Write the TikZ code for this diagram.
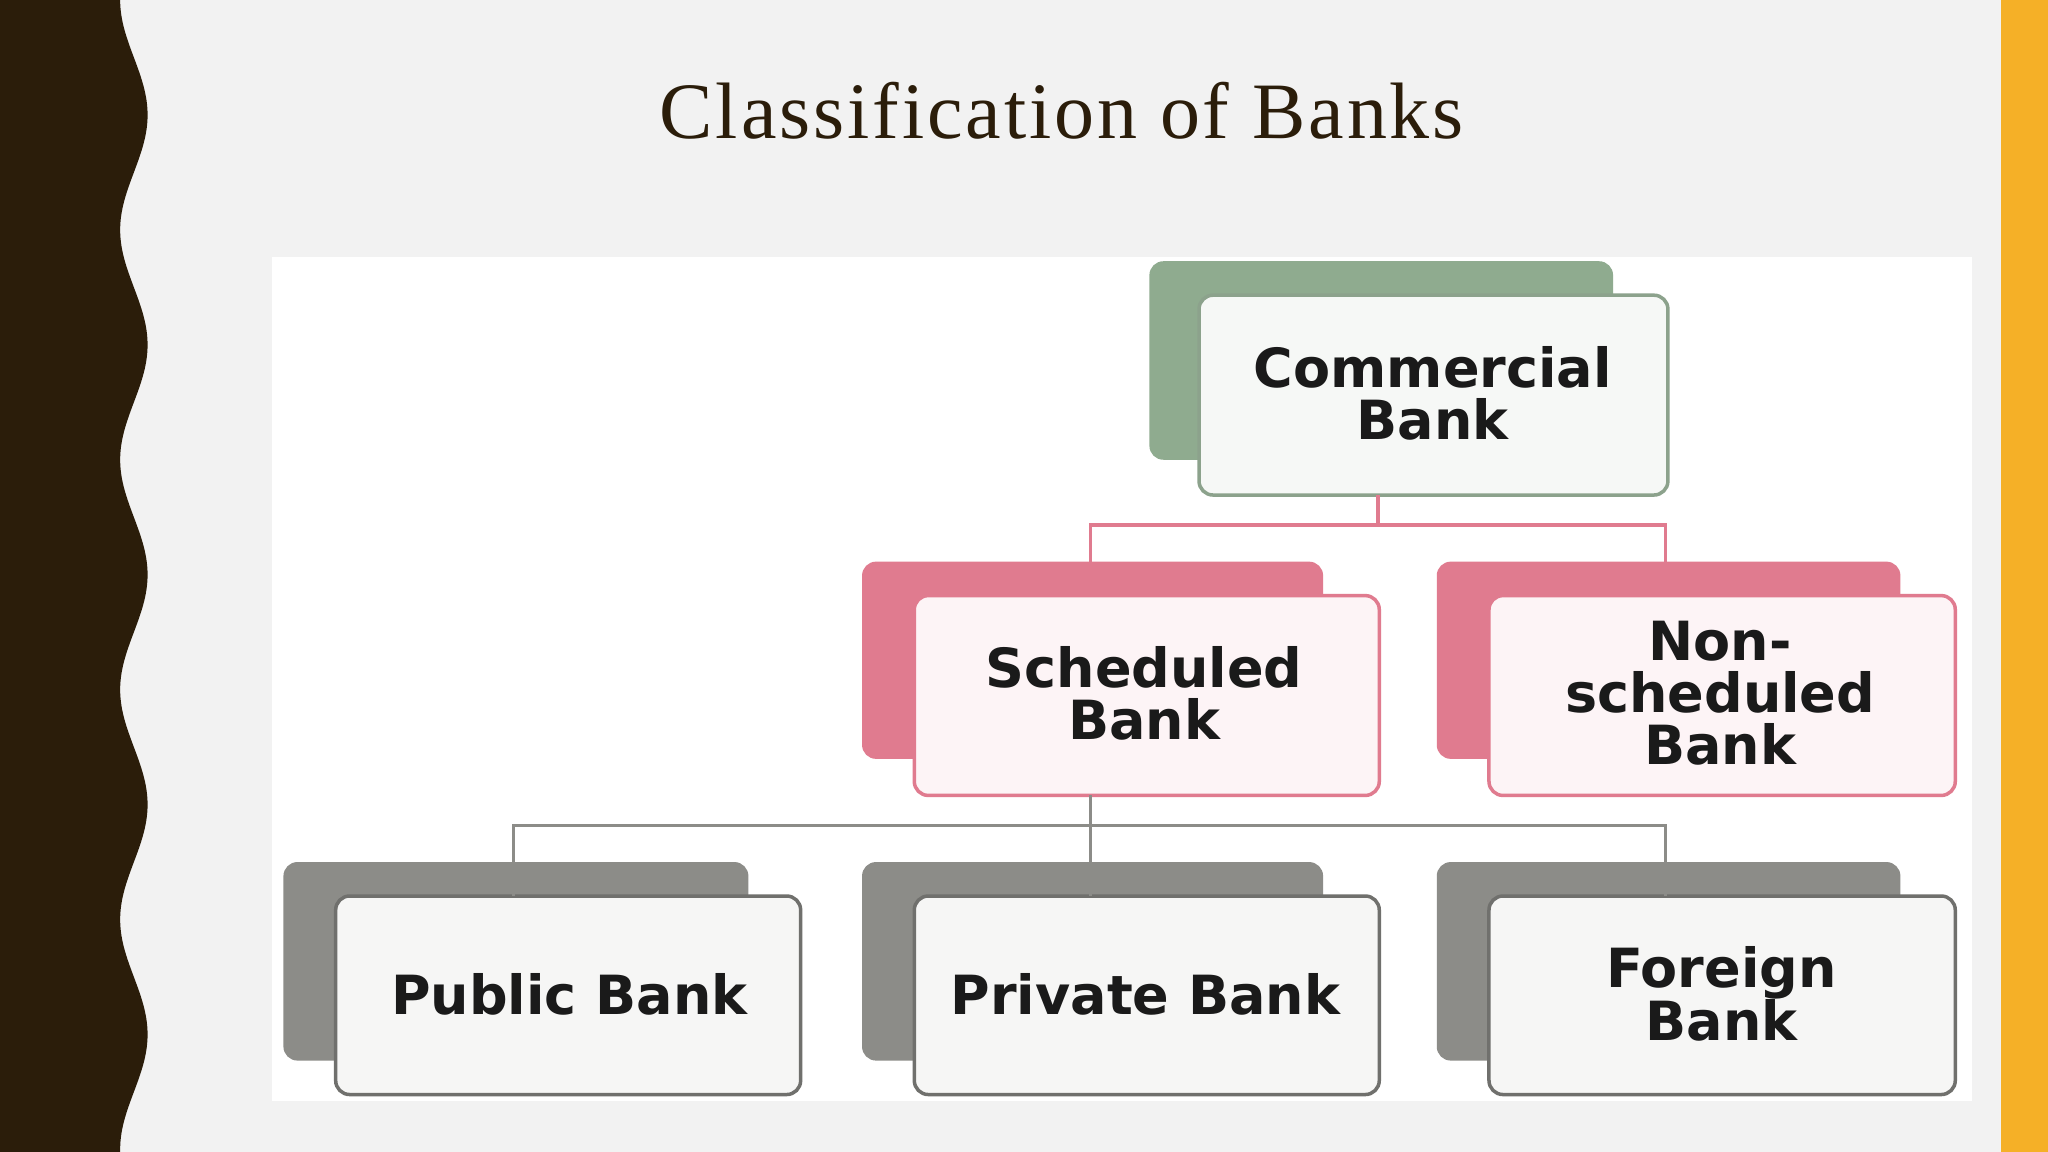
\documentclass[tikz,border=0pt]{standalone}
\usepackage{fontspec}
\setmainfont{Liberation Serif}
\newfontfamily\titlefont[LetterSpace=3.6]{Liberation Serif}
\newfontfamily\boxfont{DejaVu Sans}
\definecolor{bgc}{HTML}{F2F2F2}
\definecolor{brownc}{HTML}{2B1D0A}
\definecolor{orangec}{HTML}{F5B027}
\definecolor{greenc}{HTML}{8FAB8F}
\definecolor{pinkc}{HTML}{E07B8F}
\definecolor{grayc}{HTML}{8C8C88}
\definecolor{textc}{HTML}{1A1A1A}
\begin{document}
\begin{tikzpicture}[x=1.306pt,y=-1.306pt,
  back/.style={rounded corners=14pt},
  front/.style={rounded corners=14pt,line width=3.5pt},
  lbl/.style={font=\boxfont\bfseries\fontsize{54}{52}\selectfont,text=textc,align=center},
  conn/.style={line width=3.5pt}]
\useasboundingbox (0,0) rectangle (1568,882);
\fill[bgc] (0,0) rectangle (1568,882);
\fill[orangec] (1532,0) rectangle (1568,882);
\fill[brownc] (0,0) -- plot[domain=0:882,samples=300,smooth] ({102.5+10.5*sin((\x-44)/176*360)},\x) -- (0,882) -- cycle;
\node[font=\titlefont\fontsize{80}{90}\selectfont,text=brownc] (title) at (813,85) {Classification of Banks};
\fill[white] (208,197) rectangle (1510,843);
% back boxes
\fill[greenc,back] (880,200) rectangle (1235,352);
\fill[pinkc,back] (660,430) rectangle (1013,581);
\fill[pinkc,back] (1100,430) rectangle (1455,581);
\fill[grayc,back] (217,660) rectangle (573,812);
\fill[grayc,back] (660,660) rectangle (1013,812);
\fill[grayc,back] (1100,660) rectangle (1455,812);
% front boxes
\draw[front,draw=greenc!80!gray,fill=greenc!8!white] (918,226) rectangle (1277,379);
\draw[front,draw=pinkc,fill=pinkc!8!white] (700,456) rectangle (1056,609);
\draw[front,draw=pinkc,fill=pinkc!8!white] (1140,456) rectangle (1497,609);
\draw[front,draw=grayc!80!black,fill=grayc!8!white] (257,686) rectangle (613,838);
\draw[front,draw=grayc!80!black,fill=grayc!8!white] (700,686) rectangle (1056,838);
\draw[front,draw=grayc!80!black,fill=grayc!8!white] (1140,686) rectangle (1497,838);
% labels
\node[lbl] (com) at (1097,301) {Commercial\\Bank};
\node[lbl] (sch) at (876,531) {Scheduled\\Bank};
\node[lbl] (non) at (1317,531) {Non-\\scheduled\\Bank};
\node[lbl] (pub) at (436,761) {Public Bank};
\node[lbl] (pri) at (877,761) {Private Bank};
\node[lbl] (for) at (1318,761) {Foreign\\Bank};
\coordinate (comb) at (1055,379);
\coordinate (schb) at (835,609);
\coordinate (scht) at (835,456);
\coordinate (nont) at (1275,456);
\coordinate (pubt) at (393,686);
\coordinate (prit) at (835,686);
\coordinate (fort) at (1275,686);
\draw[conn,pinkc] (comb) -- (1055,402) -| (scht);
\draw[conn,pinkc] (1055,402) -| (nont);
\draw[conn,grayc] (schb) -- (835,632) -| (pubt);
\draw[conn,grayc] (835,632) -| (fort);
\draw[conn,grayc] (835,632) -- (prit);
\end{tikzpicture}
\end{document}
